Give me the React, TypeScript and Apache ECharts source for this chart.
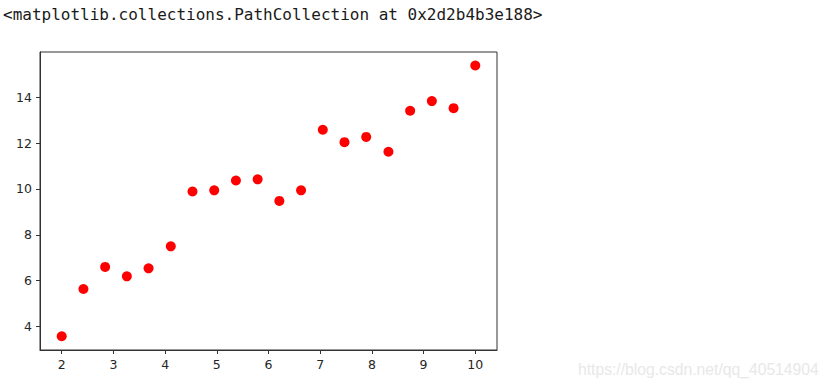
import React, { useEffect, useRef } from "react";
import * as echarts from "echarts";

const xValues = [2, 2.42, 2.84, 3.26, 3.68, 4.11, 4.53, 4.95, 5.37, 5.79, 6.21, 6.63, 7.05, 7.47, 7.89, 8.32, 8.74, 9.16, 9.58, 10];
const yValues = [3.58, 5.64, 6.6, 6.19, 6.54, 7.5, 9.89, 9.94, 10.37, 10.42, 9.48, 9.94, 12.58, 12.04, 12.27, 11.62, 13.41, 13.83, 13.52, 15.38];
const xTicks = [2, 3, 4, 5, 6, 7, 8, 9, 10];
const yTicks = [4, 6, 8, 10, 12, 14];
const headerText = "<matplotlib.collections.PathCollection at 0x2d2b4b3e188>";
const watermark = "https://blog.csdn.net/qq_40514904";

export default function App() {
  const ref = useRef<HTMLDivElement>(null);
  useEffect(() => {
    if (!ref.current) return;
    const chart = echarts.init(ref.current, null, { renderer: "svg" });
    const points = xValues.map((x, i) => [x, yValues[i]]);
    const labelStyle = { color: "#262626", fontSize: 12.5, fontFamily: "DejaVu Sans" };
    chart.setOption({
      animation: false,
      backgroundColor: "#ffffff",
      grid: {
        left: 40,
        right: 333,
        top: 52,
        bottom: 38,
        show: true,
        borderColor: "#333333",
        borderWidth: 1,
        backgroundColor: "transparent",
      },
      xAxis: {
        type: "value",
        min: 1.58,
        max: 10.42,
        splitLine: { show: false },
        axisLine: { show: true, lineStyle: { color: "#333333", width: 1 } },
        axisTick: { show: true, length: 4, inside: false, customValues: xTicks, lineStyle: { color: "#333333" } },
        axisLabel: { ...labelStyle, margin: 8, customValues: xTicks },
      },
      yAxis: {
        type: "value",
        min: 2.98,
        max: 15.97,
        splitLine: { show: false },
        axisLine: { show: true, lineStyle: { color: "#333333", width: 1 } },
        axisTick: { show: true, length: 4, inside: false, customValues: yTicks, lineStyle: { color: "#333333" } },
        axisLabel: { ...labelStyle, margin: 8, customValues: yTicks },
      },
      graphic: [
        {
          type: "text",
          left: 3,
          top: 6,
          style: {
            text: headerText,
            fill: "#1a1a1a",
            font: "16px 'DejaVu Sans Mono'",
          },
        },
        {
          type: "text",
          left: 578,
          top: 361,
          style: {
            text: watermark,
            fill: "#e8e8e8",
            font: "15.7px 'Liberation Sans'",
          },
        },
      ],
      series: [
        {
          type: "scatter",
          data: points,
          symbol: "circle",
          symbolSize: 10,
          itemStyle: { color: "#ff0000", opacity: 1 },
        },
      ],
    });
    return () => chart.dispose();
  }, []);
  return (
    <div
      ref={ref}
      style={{ position: "fixed", left: 0, top: 0, width: 830, height: 388 }}
    />
  );
}
